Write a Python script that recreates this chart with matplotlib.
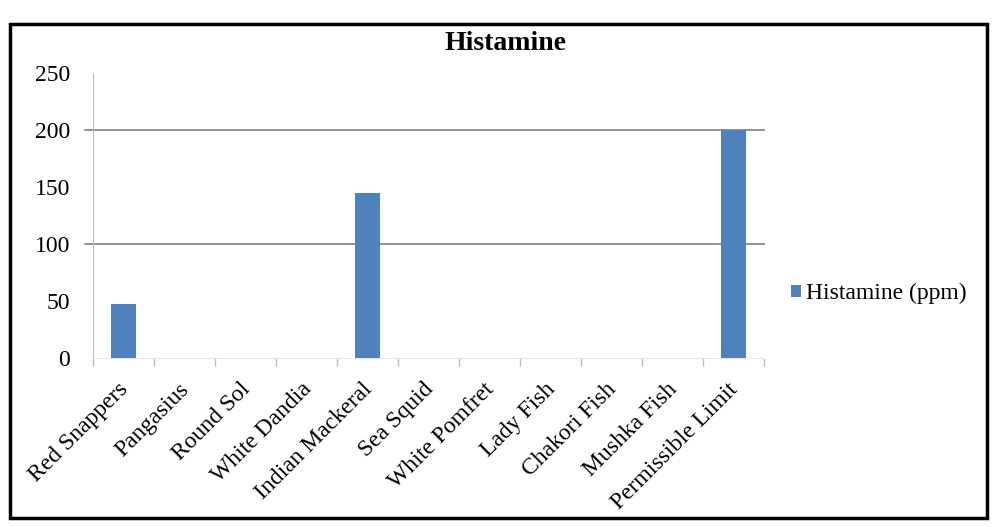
import matplotlib.pyplot as plt
import matplotlib.transforms as mtransforms
from matplotlib.patches import Rectangle

categories = ["Red Snappers", "Pangasius", "Round Sol", "White Dandia",
              "Indian Mackeral", "Sea Squid", "White Pomfret", "Lady Fish",
              "Chakori Fish", "Mushka Fish", "Permissible Limit"]
histamine = [47, 0, 0, 0, 145, 0, 0, 0, 0, 0, 200]
y_ticks = [0, 50, 100, 150, 200, 250]
grid_values = [100, 200]

plt.rcParams['font.family'] = ['Liberation Serif', 'DejaVu Serif']

fig = plt.figure(figsize=(9.98, 5.27), dpi=100)
ax = fig.add_axes([93 / 998, 1 - 358 / 527, (764 - 93) / 998, (358 - 73) / 527])

x = list(range(len(categories)))
ax.bar(x, histamine, width=0.4, color='#4f81bd', label='Histamine (ppm)', zorder=3)

ax.set_xlim(-0.5, len(categories) - 0.5)
ax.set_ylim(0, 250)

# gridlines only at 100 and 200, poking a little left of the axis
trans = mtransforms.blended_transform_factory(ax.transAxes, ax.transData)
for g in grid_values:
    ax.plot([-8 / 671, 1], [g, g], color='#7f7f7f', lw=1.2, transform=trans,
            clip_on=False, zorder=2)

ax.set_yticks(y_ticks)
ax.set_yticklabels([str(v) for v in y_ticks], fontsize=17)
ax.tick_params(axis='y', length=0, pad=16.5)

ax.set_xticks(x)
ax.set_xticklabels(categories, rotation=45, ha='right', rotation_mode='anchor', fontsize=17)
ax.tick_params(axis='x', which='major', length=0, pad=15)
shift = mtransforms.ScaledTranslation(-6 / 100, 0, fig.dpi_scale_trans)
for lbl in ax.get_xticklabels():
    lbl.set_transform(lbl.get_transform() + shift)
ax.set_xticks([i - 0.5 for i in range(len(categories) + 1)], minor=True)
ax.tick_params(axis='x', which='minor', length=6, color='#bfbfbf', width=1)

for s in ['top', 'right']:
    ax.spines[s].set_visible(False)
ax.spines['left'].set_color('#bfbfbf')
ax.spines['bottom'].set_color('#e6e6e6')

fig.text(506 / 998, 1 - 44 / 527, 'Histamine', ha='center', va='center',
         fontsize=20, fontweight='bold')

ax.legend(loc='center left', bbox_to_anchor=(1.009, 0.225), frameon=False,
          fontsize=17, handlelength=0.42, handleheight=0.42, handletextpad=0.2)

# outer black frame
fig.patches.append(Rectangle((10 / 998, 1 - 518 / 527), 977 / 998, 494 / 527,
                             transform=fig.transFigure, fill=False,
                             edgecolor='black', lw=2.5))

fig.savefig('out.png', dpi=100)
